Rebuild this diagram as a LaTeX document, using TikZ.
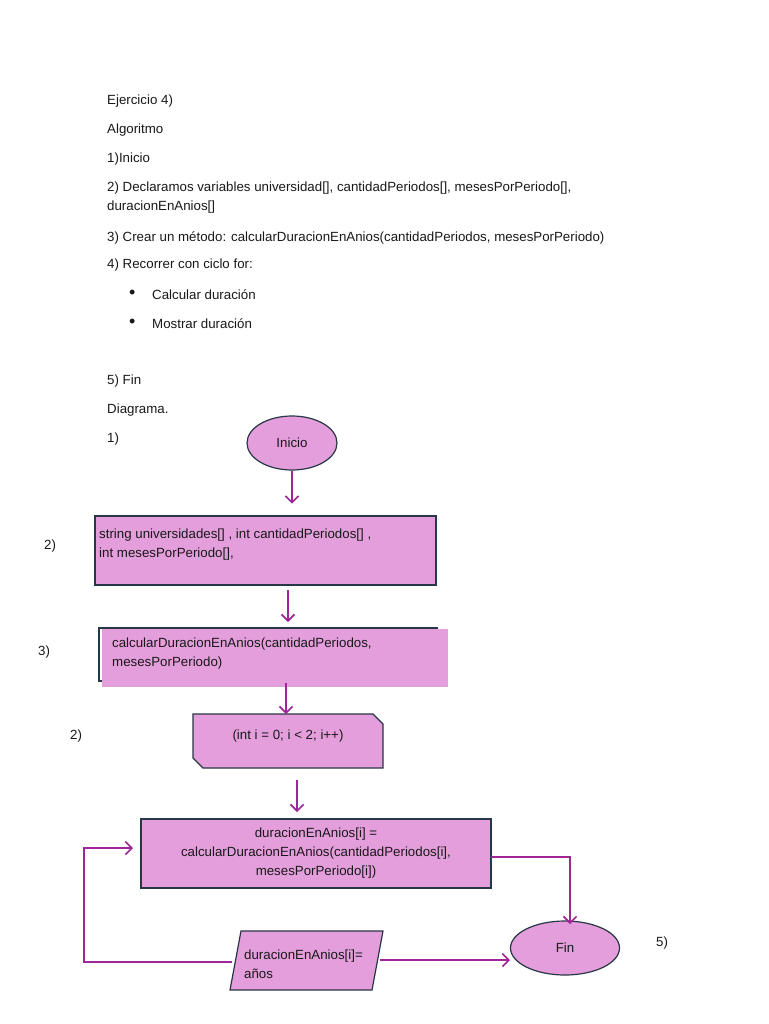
\documentclass[tikz,border=0pt]{standalone}
\usepackage{fontspec}
\setmainfont{Liberation Sans}
\usetikzlibrary{arrows.meta,shapes.geometric}
\definecolor{pinkfill}{RGB}{228,158,220}
\definecolor{purp}{RGB}{158,38,150}
\definecolor{edgec}{RGB}{40,55,70}
\begin{document}
\begin{tikzpicture}[x=1pt,y=-1pt,
  every node/.style={font=\fontsize{13.3}{19}\selectfont, inner sep=0pt, text=black!90},
  txt/.style={anchor=west},
  shapebox/.style={draw=edgec, line width=1.2pt, fill=pinkfill},
  arr/.style={draw=purp, line width=1.6pt, -{Straight Barb[length=6.5pt,width=13pt]}},
  link/.style={draw=purp, line width=1.6pt}]
\useasboundingbox[fill=white] (0,0) rectangle (768,1024);

% algorithm text
\node[txt] (t1) at (107,101.5) {Ejercicio 4)};
\node[txt] (t2) at (107,130.5) {Algoritmo};
\node[txt] (t3) at (107,159.5) {1)Inicio};
\node[txt] (t4) at (107,188.5) {2) Declaramos variables universidad[], cantidadPeriodos[], mesesPorPeriodo[],};
\node[txt] (t5) at (107,207.5) {duracionEnAnios[]};
\node[txt] (t6) at (107,237.5) {3) Crear un método: calcularDuracionEnAnios(cantidadPeriodos, mesesPorPeriodo)};
\node[txt] (t7) at (107,265.5) {4) Recorrer con ciclo for:};
\node[txt] (bu1) at (129,294.5) {\fontsize{18}{18}\selectfont\textbullet};
\node[txt] (t8) at (152,294.5) {Calcular duración};
\node[txt] (bu2) at (129,323.5) {\fontsize{18}{18}\selectfont\textbullet};
\node[txt] (t9) at (152,323.5) {Mostrar duración};
\node[txt] (t10) at (107,381.5) {5) Fin};
\node[txt] (t11) at (107,410.5) {Diagrama.};
\node[txt] (l1) at (107,439.5) {1)};
\node[txt] (l2) at (44,546) {2)};
\node[txt] (l3) at (38,652) {3)};
\node[txt] (l4) at (70,736) {2)};
\node[txt] (l5) at (656,943) {5)};

% Inicio
\node[ellipse, shapebox, minimum width=90pt, minimum height=54pt] (inicio) at (292,443) {Inicio};

% box 2
\node[shapebox, minimum width=341pt, minimum height=69pt] (b2) at (265.5,550.5) {};
\node[anchor=north west, align=left] (b2t) at (99,529) {string universidades[] , int cantidadPeriodos[] ,\\int mesesPorPeriodo[],};

% box 3
\draw[draw=edgec, line width=1.2pt] (438,628) -- (99,628) -- (99,681) -- (103,681);
\node[fill=pinkfill, minimum width=346pt, minimum height=58pt] (b3) at (275,658) {};
\node[anchor=north west, align=left] (b3t) at (112,638) {calcularDuracionEnAnios(cantidadPeriodos,\\mesesPorPeriodo)};

% loop shape
\draw[shapebox] (193,714) -- (373,714) -- (383,724) -- (383,768) -- (203,768) -- (193,758) -- cycle;
\node (loop) at (288,736) {(int i = 0; i < 2; i++)};

% process box
\node[shapebox, minimum width=350pt, minimum height=69pt, align=center] (proc) at (316,853.5) {duracionEnAnios[i] =\\calcularDuracionEnAnios(cantidadPeriodos[i],\\mesesPorPeriodo[i])};

% parallelogram
\draw[shapebox] (241,931) -- (383,931) -- (372,990) -- (230,990) -- cycle;
\node[anchor=north west, align=left] (part) at (244,950) {duracionEnAnios[i]=\\años};

% Fin
\node[ellipse, shapebox, minimum width=109pt, minimum height=54pt] (fin) at (565,948) {Fin};

% connector anchors
\coordinate (c1) at (288,590);
\coordinate (c2) at (288,622);
\coordinate (c3) at (286,683);
\coordinate (c4) at (286,714);
\coordinate (c5) at (297,780);
\coordinate (c6) at (297,812);
\coordinate (pr) at (380,960);
\coordinate (pl) at (232,962);
\coordinate (fl) at (510,960);
\coordinate (ft) at (570,924);
\coordinate (pe) at (491,857);
\coordinate (la) at (133,848);

\draw[arr] (inicio.south) -- ++(0,33);
\draw[arr] (c1) -- (c2);
\draw[arr] (c3) -- (c4);
\draw[arr] (c5) -- (c6);
\draw[arr] (pe) -| (ft);
\draw[arr] (pr) -- (fl);
\draw[arr] (pl) -- (84,962) |- (la);
\end{tikzpicture}
\end{document}
